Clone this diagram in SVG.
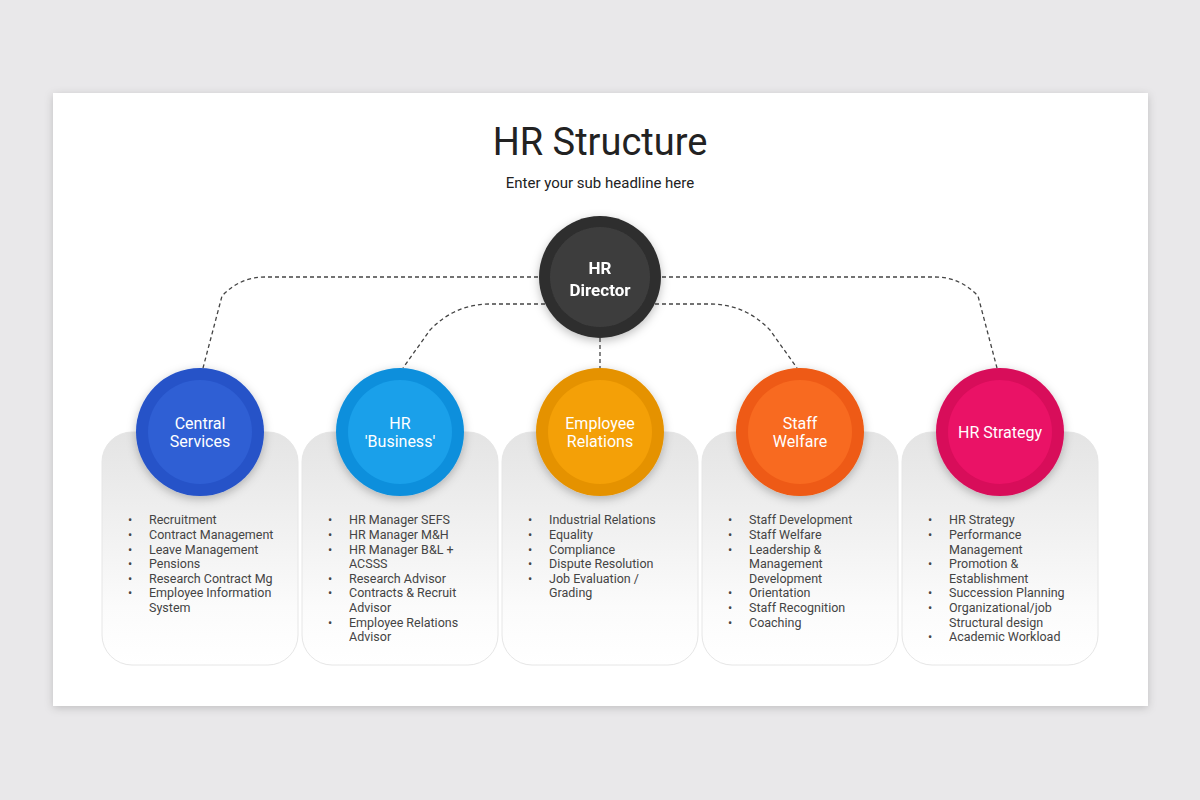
<svg xmlns="http://www.w3.org/2000/svg" width="1200" height="800" viewBox="0 0 1200 800">
<defs>
<linearGradient id="card" x1="0" y1="0" x2="0" y2="1"><stop offset="0" stop-color="#e4e4e4"/><stop offset="0.75" stop-color="#fbfbfb"/><stop offset="1" stop-color="#ffffff"/></linearGradient>
<filter id="sh" x="-30%" y="-30%" width="160%" height="160%"><feDropShadow dx="0" dy="3" stdDeviation="5" flood-opacity="0.25"/></filter>
<filter id="psh" x="-5%" y="-5%" width="110%" height="110%"><feDropShadow dx="0" dy="2" stdDeviation="4" flood-opacity="0.18"/></filter>
</defs>
<style>
.t{font-family:Roboto,"Liberation Sans",sans-serif}
.li{font-family:Roboto,"Liberation Sans",sans-serif;font-size:12.5px;fill:#444}
.nl{font-family:Roboto,"Liberation Sans",sans-serif;font-size:16px;fill:#fff;text-anchor:middle}
.con{fill:none;stroke:#444;stroke-width:1.3;stroke-dasharray:4 3}
.cd{fill:url(#card);stroke:#e6e6e6;stroke-width:1}
</style>
<rect width="1200" height="800" fill="#e9e8ea"/>
<rect x="53" y="93" width="1095" height="613" fill="#fff" filter="url(#psh)"/>
<text class="t" x="600" y="155" font-size="38" text-anchor="middle" fill="#222">HR Structure</text>
<text class="t" x="600" y="188" font-size="15" text-anchor="middle" fill="#222">Enter your sub headline here</text>
<g id="connectors">
<path class="con" d="M545,277 H265 Q240,277 222,296 L203,368"/>
<path class="con" d="M655,277 H935 Q960,277 978,296 L997,368"/>
<path class="con" d="M545,304 H490 Q455,304 430,330 L403,368"/>
<path class="con" d="M655,304 H710 Q745,304 770,330 L797,368"/>
<path class="con" d="M600,338 V368"/>
</g>
<g id="cards">
<rect class="cd" x="102" y="432" width="196" height="233" rx="30"/>
<rect class="cd" x="302" y="432" width="196" height="233" rx="30"/>
<rect class="cd" x="502" y="432" width="196" height="233" rx="30"/>
<rect class="cd" x="702" y="432" width="196" height="233" rx="30"/>
<rect class="cd" x="902" y="432" width="196" height="233" rx="30"/>
</g>
<g id="director" filter="url(#sh)">
<circle cx="600" cy="277" r="61" fill="#2e2e2e"/>
<circle cx="600" cy="277" r="50" fill="#3d3d3d"/>
<text class="t" x="600" y="274" font-size="17" font-weight="bold" fill="#fff" text-anchor="middle">HR</text>
<text class="t" x="600" y="296" font-size="17" font-weight="bold" fill="#fff" text-anchor="middle">Director</text>
</g>
<g id="central">
<circle cx="200" cy="432" r="64" fill="#2552c8" filter="url(#sh)"/><circle cx="200" cy="432" r="52" fill="#2f5fd4"/>
<text class="nl" x="200" y="429">Central</text><text class="nl" x="200" y="447">Services</text>
<g class="li"><text x="128" y="524">•</text><text x="149" y="524">Recruitment</text><text x="128" y="539">•</text><text x="149" y="539">Contract Management</text><text x="128" y="554">•</text><text x="149" y="554">Leave Management</text><text x="128" y="568">•</text><text x="149" y="568">Pensions</text><text x="128" y="583">•</text><text x="149" y="583">Research Contract Mg</text><text x="128" y="597">•</text><text x="149" y="597">Employee Information</text><text x="149" y="612">System</text></g>
</g>
<g id="business">
<circle cx="400" cy="432" r="64" fill="#0b8fdc" filter="url(#sh)"/><circle cx="400" cy="432" r="52" fill="#1aa0ea"/>
<text class="nl" x="400" y="429">HR</text><text class="nl" x="400" y="447">'Business'</text>
<g class="li"><text x="328" y="524">•</text><text x="349" y="524">HR Manager SEFS</text><text x="328" y="539">•</text><text x="349" y="539">HR Manager M&amp;H</text><text x="328" y="554">•</text><text x="349" y="554">HR Manager B&amp;L +</text><text x="349" y="568">ACSSS</text><text x="328" y="583">•</text><text x="349" y="583">Research Advisor</text><text x="328" y="597">•</text><text x="349" y="597">Contracts &amp; Recruit</text><text x="349" y="612">Advisor</text><text x="328" y="627">•</text><text x="349" y="627">Employee Relations</text><text x="349" y="641">Advisor</text></g>
</g>
<g id="relations">
<circle cx="600" cy="432" r="64" fill="#e59200" filter="url(#sh)"/><circle cx="600" cy="432" r="52" fill="#f4a007"/>
<text class="nl" x="600" y="429">Employee</text><text class="nl" x="600" y="447">Relations</text>
<g class="li"><text x="528" y="524">•</text><text x="549" y="524">Industrial Relations</text><text x="528" y="539">•</text><text x="549" y="539">Equality</text><text x="528" y="554">•</text><text x="549" y="554">Compliance</text><text x="528" y="568">•</text><text x="549" y="568">Dispute Resolution</text><text x="528" y="583">•</text><text x="549" y="583">Job Evaluation /</text><text x="549" y="597">Grading</text></g>
</g>
<g id="welfare">
<circle cx="800" cy="432" r="64" fill="#ee5a12" filter="url(#sh)"/><circle cx="800" cy="432" r="52" fill="#f86a20"/>
<text class="nl" x="800" y="429">Staff</text><text class="nl" x="800" y="447">Welfare</text>
<g class="li"><text x="728" y="524">•</text><text x="749" y="524">Staff Development</text><text x="728" y="539">•</text><text x="749" y="539">Staff Welfare</text><text x="728" y="554">•</text><text x="749" y="554">Leadership &amp;</text><text x="749" y="568">Management</text><text x="749" y="583">Development</text><text x="728" y="597">•</text><text x="749" y="597">Orientation</text><text x="728" y="612">•</text><text x="749" y="612">Staff Recognition</text><text x="728" y="627">•</text><text x="749" y="627">Coaching</text></g>
</g>
<g id="strategy">
<circle cx="1000" cy="432" r="64" fill="#d80a5a" filter="url(#sh)"/><circle cx="1000" cy="432" r="52" fill="#ea1266"/>
<text class="nl" x="1000" y="438">HR Strategy</text>
<g class="li"><text x="928" y="524">•</text><text x="949" y="524">HR Strategy</text><text x="928" y="539">•</text><text x="949" y="539">Performance</text><text x="949" y="554">Management</text><text x="928" y="568">•</text><text x="949" y="568">Promotion &amp;</text><text x="949" y="583">Establishment</text><text x="928" y="597">•</text><text x="949" y="597">Succession Planning</text><text x="928" y="612">•</text><text x="949" y="612">Organizational/job</text><text x="949" y="627">Structural design</text><text x="928" y="641">•</text><text x="949" y="641">Academic Workload</text></g>
</g>
</svg>
